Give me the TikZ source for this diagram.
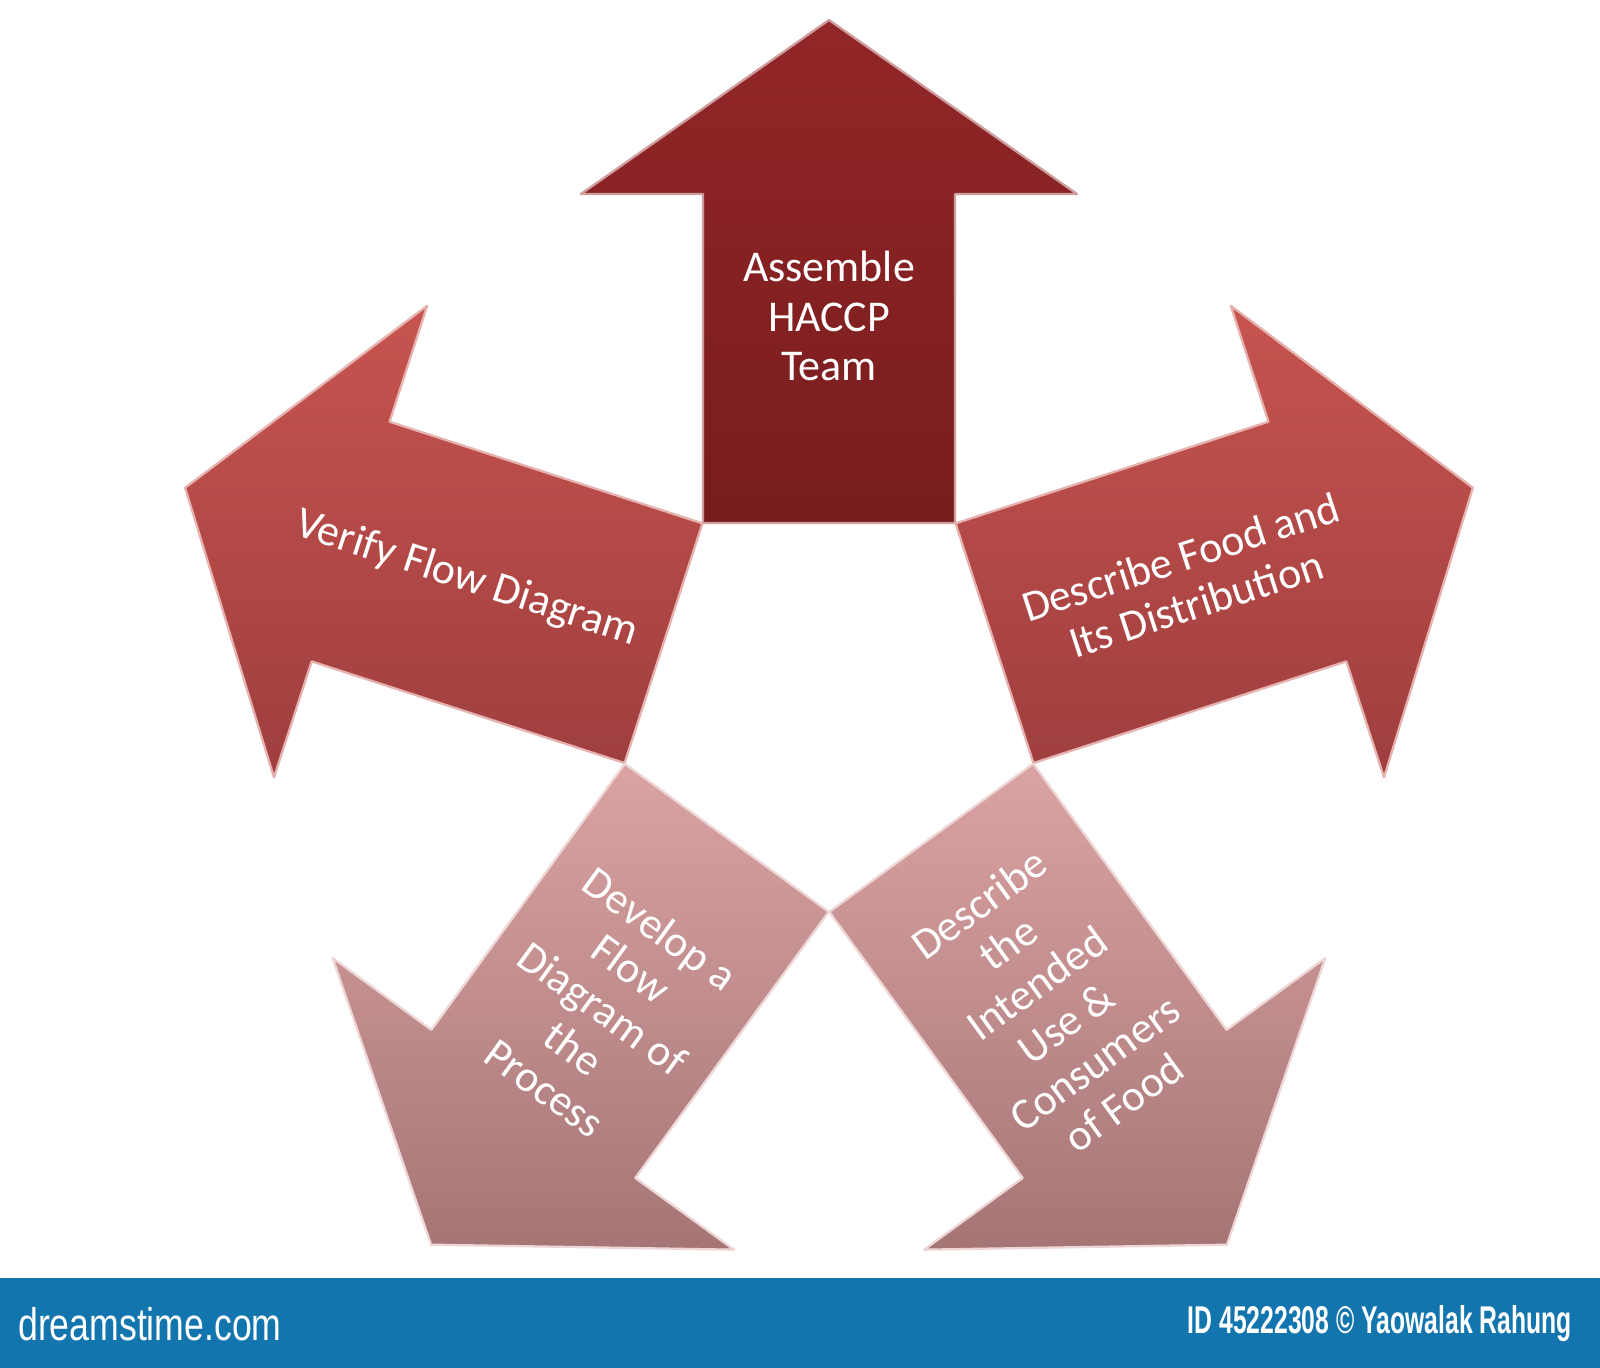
\documentclass[tikz,border=0pt]{standalone}
\usepackage{fontspec}
\setmainfont{Carlito}
\newfontfamily\footfont{Liberation Sans}
\usetikzlibrary{positioning,calc}
\definecolor{teamtop}{HTML}{922628}
\definecolor{teambot}{HTML}{781C1E}
\definecolor{sidetop}{HTML}{C7544F}
\definecolor{sidebot}{HTML}{9E3E3F}
\definecolor{lowtop}{HTML}{DBA3A3}
\definecolor{lowbot}{HTML}{A57576}
\definecolor{footblue}{HTML}{1275AD}
\begin{document}
\begin{tikzpicture}[x=0.02cm, y=0.02cm,
					arrowtext/.style={text=white, align=center, inner sep=0pt,
						font=\fontsize{25}{28}\selectfont},
					stepshape/.style={line width=1.3pt, line join=round},
					foottext/.style={text=white, inner sep=0pt, transform shape}]
				\useasboundingbox (0,0) rectangle (1600,1368);
				\coordinate (c) at (829,671);
				\foreach \ang/\ctop/\cbot in {0/teamtop/teambot, 72/sidetop/sidebot, -72/sidetop/sidebot,
						144/lowtop/lowbot, -144/lowtop/lowbot}
					\path[stepshape, top color=\ctop, bottom color=\cbot, draw=\ctop!45!white,
							shift={(c)}, rotate=\ang]
						(-126,174) -- (-126,503) -- (-248,503) -- (0,677)
						-- (248,503) -- (126,503) -- (126,174) -- cycle;
				\node[arrowtext]             (team)     at ($(c)+(90:381)$)  {Assemble\\HACCP\\Team};
				\node[arrowtext, rotate=-18] (verify)   at ($(c)+(162:381)$) {Verify Flow Diagram};
				\node[arrowtext, rotate=18]  (food)     at ($(c)+(18:378)$)  {Describe Food and\\Its Distribution};
				\node[arrowtext, rotate=36]  (intended) at ($(c)+(-54:378)$) {Describe\\the\\Intended\\Use \&\\Consumers\\of Food};
				\node[arrowtext, rotate=-36] (develop)  at ($(c)+(234:385)$) {Develop a\\Flow\\Diagram of\\the\\Process};
				\fill[footblue] (0,0) rectangle (1600,90);
				\node[foottext, anchor=west, xscale=0.78, font=\footfont\fontsize{26}{26}\selectfont]
					(site) at (18,44) {dreamstime.com};
				\node[foottext, anchor=east, xscale=0.64, font=\footfont\bfseries\fontsize{22}{22}\selectfont]
					(credit) at (1572,44) {ID 45222308 © Yaowalak Rahung};
			\end{tikzpicture}
\end{document}
